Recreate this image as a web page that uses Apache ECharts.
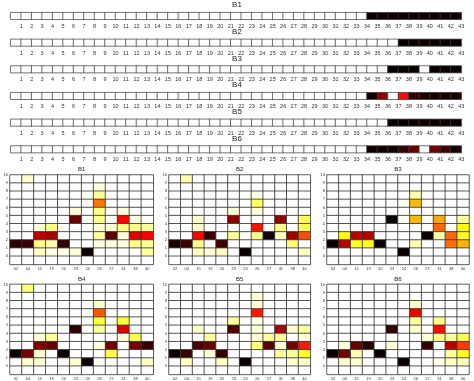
<!DOCTYPE html>
<html><head><meta charset="utf-8">
<script src="https://cdn.jsdelivr.net/npm/echarts@6/dist/echarts.min.js"></script>
<style>html,body{margin:0;padding:0;background:#fff}#c{width:474px;height:381px}</style>
</head><body><div id="c"></div>
<script>
// ---- data ----
const panelNames = ['B1','B2','B3','B4','B5','B6'];
const stripCats = ['1','2','3','4','5','6','7','8','9','10','11','12','13','14','15','16','17','18','19','20','21','22','23','24','25','26','27','28','29','30','31','32','33','34','35','36','37','38','39','40','41','42','43'];
const stripB1 = [0,0,0,0,0,0,0,0,0,0,0,0,0,0,0,0,0,0,0,0,0,0,0,0,0,0,0,0,0,0,0,0,0,0,1,1,1,1,1,1,1,1,1];
const stripB2 = [0,0,0,0,0,0,0,0,0,0,0,0,0,0,0,0,0,0,0,0,0,0,0,0,0,0,0,0,0,0,0,0,0,0,0,0,0,1,1,1,1,1,1];
const stripB3 = [0,0,0,0,0,0,0,0,0,0,0,0,0,0,0,0,0,0,0,0,0,0,0,0,0,0,0,0,0,0,0,0,0,0,0,0,1,1,1,0,1,1,1];
const stripB4 = [0,0,0,0,0,0,0,0,0,0,0,0,0,0,0,0,0,0,0,0,0,0,0,0,0,0,0,0,0,0,0,0,0,0,0.98,0.8,0,0.62,0.94,0.98,0.98,0.98,0.98];
const stripB5 = [0,0,0,0,0,0,0,0,0,0,0,0,0,0,0,0,0,0,0,0,0,0,0,0,0,0,0,0,0,0,0,0,0,0,0,0,1,1,1,1,1,1,1];
const stripB6 = [0,0,0,0,0,0,0,0,0,0,0,0,0,0,0,0,0,0,0,0,0,0,0,0,0,0,0,0,0,0,0,0,0,0,0.99,0.99,0.99,0.93,0.86,0,0.84,0.91,0.98];
const strips = [stripB1, stripB2, stripB3, stripB4, stripB5, stripB6];

const hmCols = ['02','04','15','19','20','23','24','26','27','31','38','40'];
const hmRowTicks = ['0','1','2','3','4','5','6','7','8','9','10'];
// rows listed top to bottom
const hmB1 = [
 [0,0.05,0,0,0,0,0,0,0,0,0,0],
 [0,0,0,0,0,0,0,0.03,0,0,0,0],
 [0,0,0,0,0,0,0,0.1,0,0,0,0],
 [0,0,0,0,0,0,0,0.46,0,0,0,0],
 [0,0,0,0,0,0.04,0,0.12,0,0.04,0,0],
 [0,0,0,0,0,0.86,0,0.12,0,0.63,0.03,0],
 [0,0,0.04,0.12,0,0,0,0.04,0.04,0.12,0.12,0.1],
 [0,0,0.74,0.76,0,0,0,0.1,0.88,0.04,0.68,0.64],
 [0.95,0.93,0.12,0.08,0.94,0,0,0.03,0.03,0.03,0.12,0.1],
 [0,0,0.06,0.03,0.03,0.04,1,0,0,0,0,0.1],
 [0,0,0,0,0,0,0,0,0,0,0,0]];
const hmB2 = [
 [0,0.08,0,0,0,0,0,0,0,0,0,0],
 [0,0,0,0,0,0,0,0,0,0,0,0],
 [0,0,0,0,0,0,0,0.03,0,0,0,0],
 [0,0,0,0,0,0,0,0.16,0,0,0,0],
 [0,0,0,0,0,0.04,0,0.04,0,0,0,0],
 [0,0,0.05,0,0,0.8,0,0,0,0.8,0,0.17],
 [0,0,0.05,0,0,0,0,0.61,0,0.12,0,0.17],
 [0,0,0.63,0.93,0,0.1,0,0.12,0.99,0.06,0.78,0.52],
 [0.98,0.92,0.12,0,0.92,0,0,0,0,0,0.14,0],
 [0,0,0.06,0.04,0.06,0,1,0,0,0,0,0.06],
 [0,0,0,0,0,0,0,0,0,0,0,0]];
const hmB3 = [
 [0,0,0,0,0,0,0,0,0,0,0,0],
 [0,0,0,0,0,0,0,0,0,0,0,0],
 [0,0,0,0,0,0,0,0.08,0,0,0,0],
 [0,0,0,0,0,0,0,0.36,0,0,0,0],
 [0,0,0,0,0,0,0,0,0,0,0,0],
 [0,0,0,0,0,1,0,0.36,0,0.38,0,0.1],
 [0,0,0,0,0,0,0,0,0,0.48,0,0.25],
 [0,0.25,0.74,0.74,0,0,0,0,1,0.08,0.48,0.22],
 [1,0.74,0.22,0.22,1,0,0,0.08,0,0,0.47,0.37],
 [0,0,0,0,0,0,1,0,0,0,0,0],
 [0,0,0,0,0,0,0,0,0,0,0,0]];
const hmB4 = [
 [0,0.13,0,0,0,0,0,0,0,0,0,0],
 [0,0,0,0,0,0,0,0,0,0,0,0],
 [0,0,0,0,0,0,0,0.05,0,0,0,0],
 [0,0,0,0,0,0,0,0.5,0,0,0,0],
 [0,0,0,0,0,0,0,0.2,0,0.2,0,0],
 [0,0,0,0,0,0.95,0,0.1,0,0.68,0,0],
 [0,0,0.04,0.1,0,0,0,0,0,0.04,0.18,0],
 [0,0,0.82,0.86,0,0,0,0.04,0.84,0,0.84,0.93],
 [1,0.84,0.05,0,1,0,0,0,0.18,0,0,0],
 [0,0.05,0.04,0,0,0.05,1,0,0,0,0,0.06],
 [0,0,0,0,0,0,0,0,0,0,0,0]];
const hmB5 = [
 [0,0,0,0,0,0,0,0,0,0,0,0],
 [0,0,0,0,0,0,0,0.04,0,0,0,0],
 [0,0,0,0,0,0,0,0.04,0,0,0,0],
 [0,0,0,0,0,0,0,0.6,0,0,0,0],
 [0,0,0,0,0,0.1,0,0.03,0,0,0,0],
 [0,0,0.05,0,0,0.9,0,0.04,0,0.76,0.05,0.1],
 [0,0,0,0.1,0,0,0,0.04,0.1,0.1,0,0.04],
 [0,0,0.9,0.86,0,0,0,0.14,0.88,0.04,0.84,0.6],
 [1,0.93,0,0.04,0.94,0,0,0,0,0.1,0.1,0.22],
 [0,0.06,0,0,0.06,0,1,0,0,0,0.05,0.05],
 [0,0,0,0,0,0,0,0,0,0,0,0]];
const hmB6 = [
 [0,0,0,0,0,0,0,0,0,0,0,0],
 [0,0,0,0,0,0,0,0,0,0,0,0],
 [0,0,0,0,0,0,0,0.05,0,0,0,0],
 [0,0,0,0,0,0,0,0.65,0,0,0,0],
 [0,0,0,0,0,0,0,0.1,0,0.12,0,0],
 [0,0,0,0,0,0.94,0,0.05,0,0.62,0,0],
 [0,0,0,0,0,0,0,0,0.04,0.12,0.1,0.17],
 [0,0.04,0.86,0.96,0,0.04,0,0,0.94,0,0.74,0.55],
 [1,0.84,0.08,0,1,0,0,0,0,0,0.1,0.22],
 [0,0.05,0.05,0,0,0,1,0,0,0.03,0.06,0.06],
 [0,0,0,0,0,0,0,0,0,0,0,0]];
const heatmaps = [hmB1, hmB2, hmB3, hmB4, hmB5, hmB6];

// ---- colour map (hot, reversed) ----
function hotR(t){
  const s = 1 - t;
  const c = v => Math.max(0, Math.min(1, v));
  const r = c(0.0416 + (1-0.0416) * s / 0.365079);
  const g = c((s - 0.365079) / (0.746032 - 0.365079));
  const b = c((s - 0.746032) / (1 - 0.746032));
  const h = v => Math.round(v*255).toString(16).padStart(2,'0');
  return '#' + h(r) + h(g) + h(b);
}
const hotColors = [];
for (let i = 0; i <= 60; i++) hotColors.push(hotR(i/60));

// ---- layout ----
const grid = [], xAxis = [], yAxis = [], series = [], graphic = [];
const FONT = 'Liberation Sans, Arial, sans-serif';
const stripLeft = 10.7, stripWidth = 450.6, stripTop0 = 12.7, stripStep = 26.66, stripH = 6.6;
strips.forEach((vals, i) => {
  const top = stripTop0 + stripStep * i;
  grid.push({left: stripLeft, top: top, width: stripWidth, height: stripH});
  const xi = xAxis.length;
  xAxis.push({type:'category', gridIndex:i, data: stripCats, show:false, position:'top'});
  xAxis.push({type:'value', gridIndex:i, min:0, max:43, interval:1, position:'bottom',
    axisLine:{show:false}, axisTick:{show:false}, splitLine:{show:false},
    axisLabel:{fontSize:5.5, margin:4.3, color:'#333', fontFamily:FONT,
      formatter: v => v === 0 ? '' : stripCats[v-1]}});
  const yi = yAxis.length;
  yAxis.push({type:'category', gridIndex:i, data:['s'], show:false});
  series.push({type:'heatmap', xAxisIndex: xi, yAxisIndex: yi,
    data: vals.map((v, k) => [k, 0, v]),
    itemStyle:{borderColor:'#3a3a3a', borderWidth:0.7}, emphasis:{disabled:true}, progressive:0, silent:true});
  graphic.push({type:'text', x: 237, y: top - 7.5, style:{text: panelNames[i], fontSize: 8, fontFamily: FONT, fill:'#222', textAlign:'center', textVerticalAlign:'middle'}});
});

const hmLefts = [10, 169, 327], hmRights = [153.3, 310.3, 469];
const hmTops = [175, 284.4], hmBottoms = [264.4, 374.4];
heatmaps.forEach((mat, j) => {
  const c = j % 3, r = Math.floor(j / 3);
  const gi = grid.length;
  grid.push({left: hmLefts[c], top: hmTops[r], width: hmRights[c] - hmLefts[c], height: hmBottoms[r] - hmTops[r]});
  const xi = xAxis.length;
  xAxis.push({type:'category', gridIndex:gi, data: hmCols, position:'bottom',
    axisLine:{show:false}, axisTick:{show:false},
    axisLabel:{fontSize:4, margin:2.5, color:'#333', fontFamily:FONT}});
  const yi = yAxis.length;
  yAxis.push({type:'category', gridIndex:gi, data: hmRowTicks, show:false, position:'right'});
  yAxis.push({type:'value', gridIndex:gi, min:0, max:11, interval:1, position:'left',
    axisLine:{show:false}, axisTick:{show:false}, splitLine:{show:false},
    axisLabel:{fontSize:4, margin:2, color:'#333', fontFamily:FONT,
      formatter: v => v === 0 ? '' : hmRowTicks[v-1]}});
  const data = [];
  const nRows = mat.length;
  mat.forEach((row, ri) => row.forEach((v, ci) => data.push([ci, nRows - 1 - ri, v])));
  series.push({type:'heatmap', xAxisIndex: xi, yAxisIndex: yi, data: data,
    itemStyle:{borderColor:'#333', borderWidth:0.8}, emphasis:{disabled:true}, progressive:0, silent:true});
  graphic.push({type:'text', x: (hmLefts[c] + hmRights[c]) / 2, y: hmTops[r] - 5.5,
    style:{text: panelNames[j], fontSize: 6, fontFamily: FONT, fill:'#222', textAlign:'center', textVerticalAlign:'middle'}});
});

const chart = echarts.init(document.getElementById('c'), null, {renderer:'canvas'});
chart.setOption({
  animation:false,
  backgroundColor:'#fff',
  grid, xAxis, yAxis, series, graphic,
  visualMap:{type:'continuous', show:false, min:0, max:1, seriesIndex: series.map((s,i)=>i), inRange:{color: hotColors}}
});
</script></body></html>
